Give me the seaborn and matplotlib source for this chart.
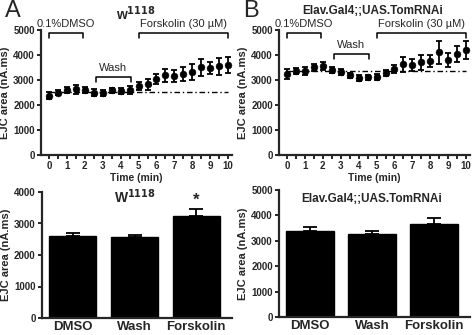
import numpy as np
import pandas as pd
import matplotlib
matplotlib.use("Agg")
import matplotlib.pyplot as plt
import seaborn as sns

sns.set_style("ticks")
plt.rcParams['font.family'] = ['Liberation Sans', 'DejaVu Sans']

time = [0, 0.5, 1, 1.5, 2, 2.5, 3, 3.5, 4, 4.5, 5, 5.5, 6, 6.5, 7, 7.5, 8, 8.5, 9, 9.5, 10]
w_mean = [2380, 2500, 2600, 2630, 2600, 2490, 2490, 2590, 2570, 2600, 2760, 2840, 3030,
          3190, 3160, 3240, 3330, 3510, 3480, 3550, 3590]
w_err = [150, 100, 130, 170, 130, 140, 120, 100, 110, 170, 170, 220, 200, 270, 250, 270,
         330, 330, 250, 330, 320]
t_mean = [3240, 3360, 3360, 3510, 3560, 3400, 3310, 3200, 3090, 3110, 3130, 3280, 3440,
          3640, 3610, 3710, 3760, 4110, 3800, 4040, 4200]
t_err = [190, 130, 160, 150, 150, 120, 120, 100, 120, 100, 130, 110, 150, 300, 250, 290,
         250, 450, 280, 330, 370]
w_base = 2540
t_base = 3350

conditions = ["DMSO", "Wash", "Forskolin"]
w_bar = [2590, 2560, 3230]
w_bar_err = [95, 85, 215]
t_bar = [3380, 3260, 3660]
t_bar_err = [180, 120, 240]

W, H = 474, 335
fig = plt.figure(figsize=(W / 100, H / 100), dpi=100)

def ax_px(l, t, r, b):
    return fig.add_axes([l / W, 1 - b / H, (r - l) / W, (b - t) / H])

bold = dict(fontweight='bold')

def style(ax):
    sns.despine(ax=ax)
    for s in ['left', 'bottom']:
        ax.spines[s].set_linewidth(1.6)
    ax.tick_params(width=1.4, length=3, labelsize=7, pad=1.5)
    for lbl in ax.get_xticklabels() + ax.get_yticklabels():
        lbl.set_fontweight('bold')

def top_panel(ax, mean, err, base, wash_y):
    df = pd.DataFrame({'t': time, 'v': mean})
    ax.errorbar(time, mean, yerr=err, fmt='none', ecolor='black', elinewidth=1.3,
                capsize=2.5, capthick=1.3, zorder=3)
    sns.scatterplot(data=df, x='t', y='v', ax=ax, color='black', s=24, marker='o',
                    edgecolor='black', zorder=4, legend=False)
    ax.plot([0, 10], [base, base], color='black', lw=1.0, ls=(0, (4, 2, 1, 2)), zorder=2)
    ax.set_xlim(-0.45, 10.22)
    ax.set_ylim(0, 5000)
    ax.set_xticks(range(0, 11))
    ax.set_xticks(np.arange(0.5, 10, 1), minor=True)
    ax.tick_params(axis='x', which='minor', length=3, width=1.4)
    ax.set_yticks([0, 1000, 2000, 3000, 4000, 5000])
    ax.set_xlabel("Time (min)", fontsize=7.5, labelpad=1.5, **bold)
    ax.set_ylabel("EJC area (nA.ms)", fontsize=8, labelpad=2, **bold)
    style(ax)

    def bracket(x0, x1, y, label, ly):
        ax.plot([x0, x0, x1, x1], [y - 200, y, y, y - 200], color='black', lw=1.1,
                clip_on=False)
        ax.text((x0 + x1) / 2, ly, label, ha='center', va='bottom', fontsize=8,
                clip_on=False)
    bracket(0, 1.9, 4870, "0.1%DMSO", 5030)
    bracket(2.6, 4.6, wash_y, "Wash", wash_y + 150)
    bracket(5.0, 10.0, 4870, "Forskolin (30 \u00b5M)", 5030)

axA = ax_px(41, 30, 232, 155)
top_panel(axA, w_mean, w_err, w_base, 3130)
fig.text(5 / W, 1 - 11 / H, "A", fontsize=17, va='center', ha='left')
fig.text(136 / W, 1 - 14 / H, "w$^{\\mathbf{1118}}$", fontsize=10, ha='center', va='center', **bold)

axB = ax_px(279, 30, 470, 155)
top_panel(axB, t_mean, t_err, t_base, 4040)
fig.text(243 / W, 1 - 11 / H, "B", fontsize=17, va='center', ha='left')
fig.text(373 / W, 1 - 11 / H, "Elav.Gal4;;UAS.TomRNAi", fontsize=8.5, ha='center', va='center', **bold)

def bottom_panel(ax, vals, errs, ymax, title, ty, star=False):
    df = pd.DataFrame({'c': conditions, 'v': vals})
    sns.barplot(data=df, x='c', y='v', ax=ax, color='black', width=0.76, errorbar=None,
                saturation=1, edgecolor='black')
    ax.errorbar(range(3), vals, yerr=[[0, 0, 0], errs], fmt='none', ecolor='black',
                elinewidth=1.3, capsize=5, capthick=1.3)
    ax.set_xlim(-0.5, 2.58)
    ax.set_ylim(0, ymax)
    ax.set_yticks(np.arange(0, ymax + 1, 1000))
    ax.set_xlabel("")
    ax.set_ylabel("EJC area (nA.ms)", fontsize=8, labelpad=2, **bold)
    style(ax)
    ax.tick_params(axis='x', length=0, labelsize=9.5, pad=2)
    for lbl in ax.get_xticklabels():
        lbl.set_fontweight('bold')
    ax.text(1, ty, title, ha='center', va='center', fontsize=10 if star else 8.5, **bold)
    if star:
        ax.text(2, vals[2] + errs[2] + 40, "*", ha='center', va='bottom', fontsize=12, **bold)

axC = ax_px(42, 192, 232, 318)
bottom_panel(axC, w_bar, w_bar_err, 4000, "W$^{\\mathbf{1118}}$", 3850, star=True)

axD = ax_px(279, 190, 470, 317)
bottom_panel(axD, t_bar, t_bar_err, 5000, "Elav.Gal4;;UAS.TomRNAi", 4650)

fig.savefig("out.png", dpi=100)
